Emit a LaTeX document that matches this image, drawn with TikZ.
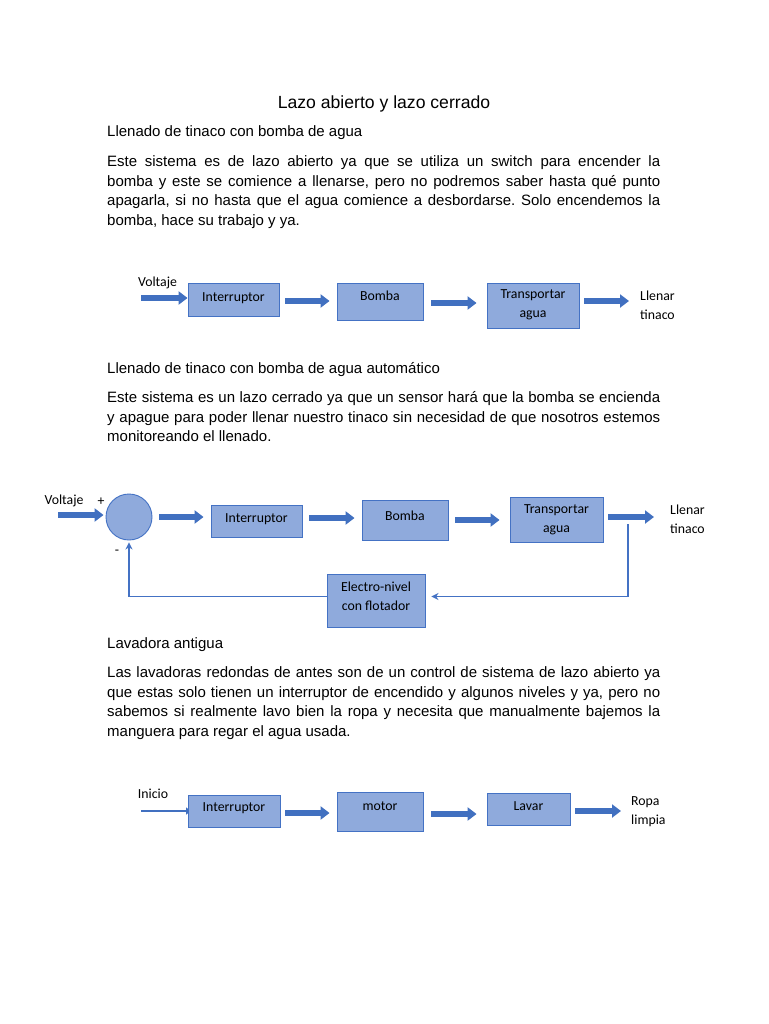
\documentclass[tikz,border=0pt]{standalone}
\usepackage{fontspec}
\setmainfont{Liberation Sans}
\newfontfamily\calfont{Carlito}
\usetikzlibrary{arrows.meta,calc}
\definecolor{boxfill}{HTML}{8FAADC}
\definecolor{boxline}{HTML}{4472C4}
\definecolor{arrowblue}{HTML}{4170C0}
\definecolor{fbblue}{HTML}{4472C4}
\frenchspacing
\begin{document}
\begin{tikzpicture}[x=1pt,y=-1pt,
  box/.style={draw=boxline, fill=boxfill, line width=0.9pt, inner sep=0pt},
  lbl/.style={font=\calfont\fontsize{13.8pt}{19pt}\selectfont, inner sep=0pt, align=center},
  lbll/.style={font=\calfont\fontsize{13.8pt}{19pt}\selectfont, inner sep=0pt, align=left, anchor=west},
  body/.style={font=\fontsize{15pt}{19.7pt}\selectfont, anchor=base west, inner sep=0pt},
  title/.style={font=\fontsize{17.6pt}{21pt}\selectfont, anchor=base, inner sep=0pt},
  barrow/.style={line width=6.5pt, draw=arrowblue, -{Triangle[width=13pt,length=9pt]}},
  thinarrow/.style={line width=2.5pt, draw=arrowblue, -{Triangle[width=7pt,length=5pt]}},
  fbline/.style={draw=fbblue, line width=1.4pt, -{Stealth[width=7pt,length=7pt]}}]
\useasboundingbox[fill=white] (0,0) rectangle (768,1024);

% ---------- Texts ----------
\node[title] (ttl) at (384,108.3) {Lazo abierto y lazo cerrado};
\node[body] (h1) at (107,137) {Llenado de tinaco con bomba de agua};
\node[body] (p1a) at (107,166.5) {\makebox[553pt][s]{Este sistema es de lazo abierto ya que se utiliza un switch para encender la}};
\node[body] (p1b) at (107,186.2) {\makebox[553pt][s]{bomba y este se comience a llenarse, pero no podremos saber hasta qué punto}};
\node[body] (p1c) at (107,205.9) {\makebox[553pt][s]{apagarla, si no hasta que el agua comience a desbordarse. Solo encendemos la}};
\node[body] (p1d) at (107,225.6) {bomba, hace su trabajo y ya.};

\node[body] (h2) at (107,373.5) {Llenado de tinaco con bomba de agua automático};
\node[body] (p2a) at (107,402.5) {\makebox[553pt][s]{Este sistema es un lazo cerrado ya que un sensor hará que la bomba se encienda}};
\node[body] (p2b) at (107,422.2) {\makebox[553pt][s]{y apague para poder llenar nuestro tinaco sin necesidad de que nosotros estemos}};
\node[body] (p2c) at (107,441.9) {monitoreando el llenado.};

\node[body] (h3) at (107,648.5) {Lavadora antigua};
\node[body] (p3a) at (107,677.5) {\makebox[553pt][s]{Las lavadoras redondas de antes son de un control de sistema de lazo abierto ya}};
\node[body] (p3b) at (107,697.2) {\makebox[553pt][s]{que estas solo tienen un interruptor de encendido y algunos niveles y ya, pero no}};
\node[body] (p3c) at (107,716.9) {\makebox[553pt][s]{sabemos si realmente lavo bien la ropa y necesita que manualmente bajemos la}};
\node[body] (p3d) at (107,736.6) {manguera para regar el agua usada.};

% ---------- Diagram 1 ----------
\node[box, minimum width=91pt, minimum height=33pt] (i1) at (233.5,299.5) {};
\node[box, minimum width=86pt, minimum height=37pt] (b1) at (380,301.5) {};
\node[box, minimum width=92pt, minimum height=45pt] (t1) at (533,305.5) {};
\node[lbl] (i1t) at (233.5,298) {Interruptor};
\node[lbl] (b1t) at (380,295.5) {Bomba};
\node[lbl] (t1t) at (533,304.5) {Transportar\\agua};
\node[lbl] (v1) at (157.5,283) {Voltaje};
\node[lbll] (o1) at (640,305.5) {Llenar\\tinaco};
\coordinate (s1) at (141,298);
\coordinate (e1) at (629,301);
\draw[barrow] (s1) -- (s1 -| i1.west);
\draw[barrow] ([xshift=6pt,yshift=-1.5pt]i1.east) -- ([xshift=-7pt,yshift=-1.5pt]i1.east -| b1.west);
\draw[barrow] ([xshift=8pt,yshift=-1.5pt]b1.east) -- ([xshift=-10pt,yshift=-1.5pt]b1.east -| t1.west);
\draw[barrow] ([xshift=5pt]t1.east |- e1) -- (e1);

% ---------- Diagram 2 ----------
\node[circle, draw=boxline, fill=boxfill, line width=0.9pt, minimum size=46pt, inner sep=0pt] (c) at (129,517) {};
\node[box, minimum width=91pt, minimum height=32pt] (i2) at (256.5,521) {};
\node[box, minimum width=86pt, minimum height=40pt] (b2) at (405,520) {};
\node[box, minimum width=93pt, minimum height=45pt] (t2) at (556.5,519.5) {};
\node[box, minimum width=98pt, minimum height=53pt] (e2) at (376,600.5) {};
\node[lbl] (i2t) at (256.5,519) {Interruptor};
\node[lbl] (b2t) at (405,515.5) {Bomba};
\node[lbl] (t2t) at (556.5,519.5) {Transportar\\agua};
\node[lbl] (e2t) at (376,596.5) {Electro-nivel\\con flotador};
\node[lbl] (v2) at (64,501) {Voltaje};
\node[lbl] (plus) at (101,502) {+};
\node[lbl] (minus) at (117,552) {-};
\node[lbll] (o2) at (670,519.5) {Llenar\\tinaco};
\coordinate (s2) at (58,515);
\coordinate (e2o) at (654,517);
\coordinate (fb1) at (628,524);
\draw[barrow] (s2) -- ([xshift=-2pt]s2 -| c.west);
\draw[barrow] ([xshift=7pt]c.east) -- ([xshift=-7pt]c.east -| i2.west);
\draw[barrow] ([xshift=7pt,yshift=3pt]i2.east) -- ([xshift=-7pt,yshift=3pt]i2.east -| b2.west);
\draw[barrow] ([xshift=7pt]b2.east) -- ([xshift=-10pt]b2.east -| t2.west);
\draw[barrow] ([xshift=5pt]t2.east |- e2o) -- (e2o);
\draw[fbline] (fb1) |- ([xshift=6pt,yshift=4pt]e2.east);
\draw[fbline] ([yshift=4pt]e2.west) -| ([yshift=-2pt]c.south);

% ---------- Diagram 3 ----------
\coordinate (s3) at (141,811);
\draw[thinarrow] (s3) -- (191,811);
\node[box, minimum width=92pt, minimum height=32pt] (i3) at (234,811) {};
\node[box, minimum width=86pt, minimum height=39pt] (m3) at (380,811.5) {};
\node[box, minimum width=83pt, minimum height=32pt] (l3) at (528.5,809) {};
\node[lbl] (i3t) at (234,808.5) {Interruptor};
\node[lbl] (m3t) at (380,806.5) {motor};
\node[lbl] (l3t) at (528.5,806.5) {Lavar};
\node[lbl] (v3) at (153,794) {Inicio};
\node[lbll] (o3) at (631,812) {Ropa\\limpia};
\coordinate (e3) at (621,811);
\draw[barrow] ([xshift=5pt,yshift=-2pt]i3.east) -- ([xshift=-7pt,yshift=-2pt]i3.east -| m3.west);
\draw[barrow] ([xshift=8pt,yshift=-2.5pt]m3.east) -- ([xshift=-10pt,yshift=-2.5pt]m3.east -| l3.west);
\draw[barrow] ([xshift=5pt]l3.east |- e3) -- (e3);
\end{tikzpicture}
\end{document}
